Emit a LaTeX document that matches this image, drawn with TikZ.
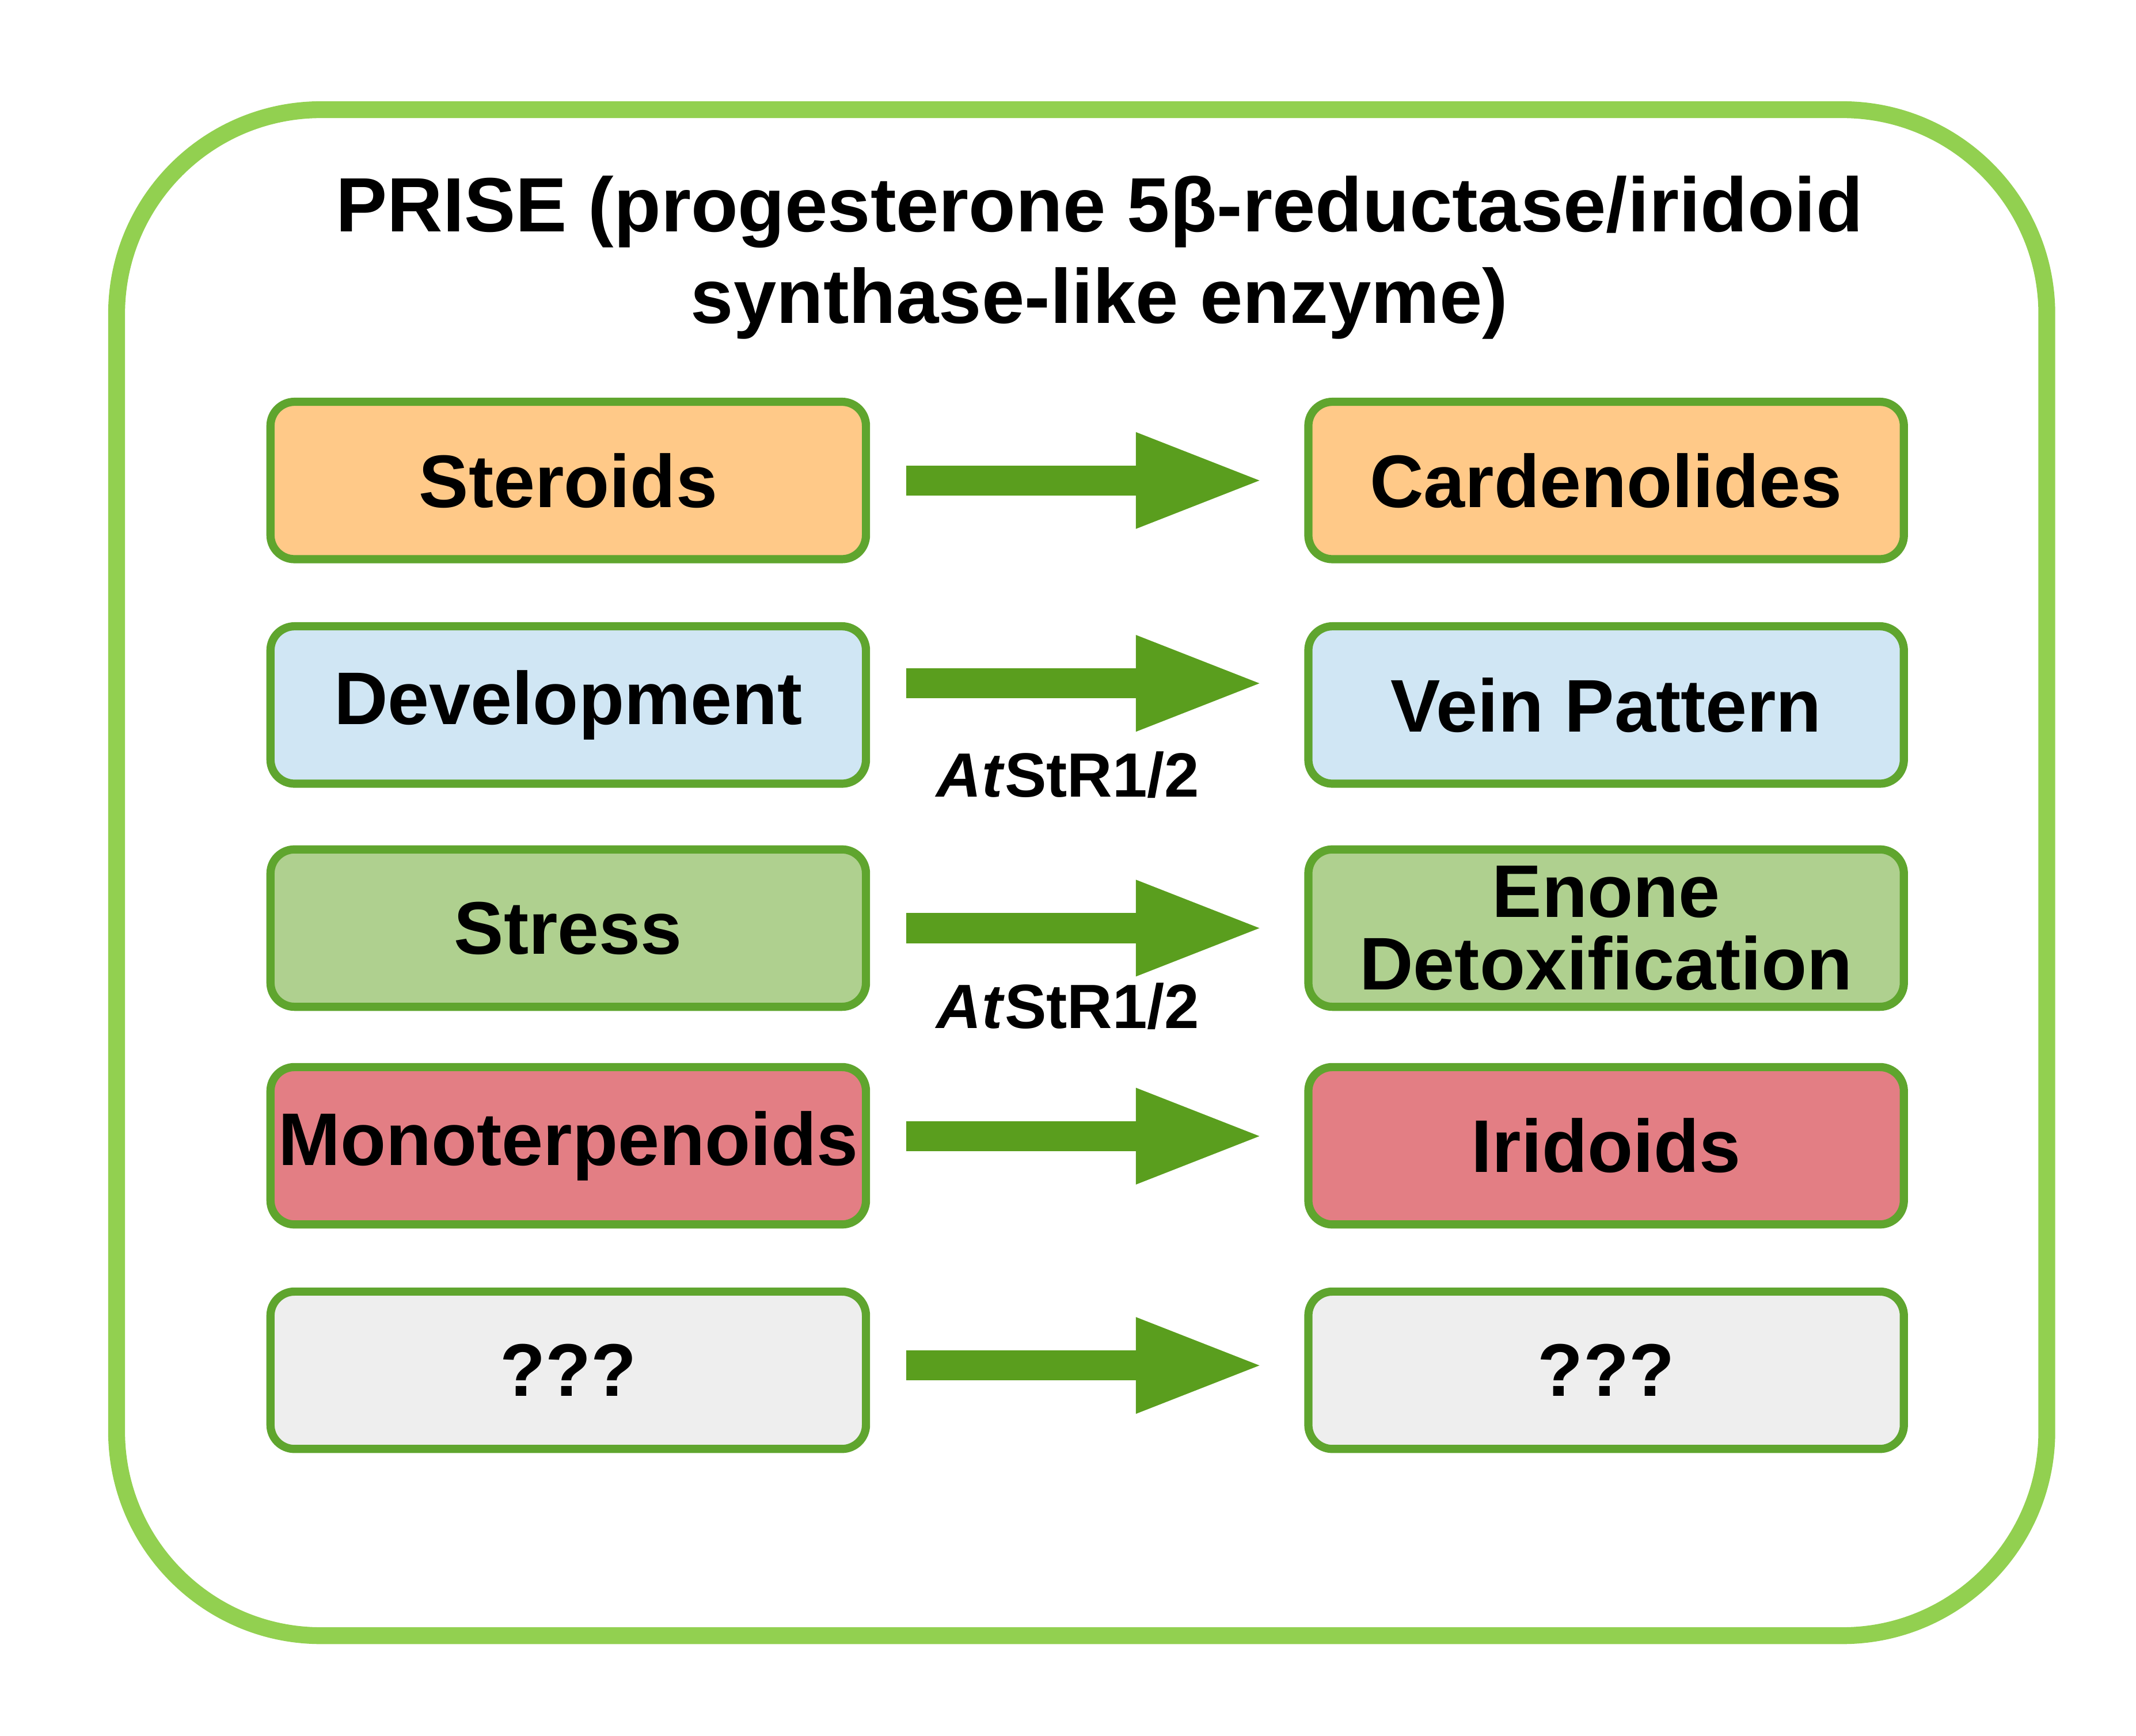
\documentclass[tikz,border=0pt]{standalone}
\usepackage{fontspec}
\setmainfont{Liberation Sans}
\usetikzlibrary{arrows.meta}
\definecolor{outerg}{HTML}{92D050}
\definecolor{boxg}{HTML}{5FA52E}
\definecolor{arrg}{HTML}{5A9E1E}
\definecolor{cor}{HTML}{FFC988}
\definecolor{cbl}{HTML}{D0E6F4}
\definecolor{cgr}{HTML}{AFD08F}
\definecolor{crd}{HTML}{E37E84}
\definecolor{cgy}{HTML}{EEEEEE}
\begin{document}
\begin{tikzpicture}[x=0.02cm,y=-0.02cm,
  box/.style={draw=boxg,line width=3.4pt,rounded corners=10pt,minimum width=8.7cm,minimum height=2.3cm,inner sep=0pt,font=\fontsize{31}{32}\selectfont\bfseries,align=center},
  arr/.style={draw=arrg,line width=12.5pt,-{Triangle[length=54pt,width=36pt]},shorten <=15pt,shorten >=16pt},
  lab/.style={font=\fontsize{26}{28}\selectfont\bfseries}]
\useasboundingbox (0,0) rectangle (1560,1268);
\node[draw=outerg,line width=7pt,rounded corners=85pt,minimum width=28.2cm,minimum height=22.3cm] (outer) at (790,637.5) {};
\node[font=\fontsize{32}{38}\selectfont\bfseries,align=center] (title) at (803,188) {PRISE (progesterone 5β-reductase/iridoid\\synthase-like enzyme)};
\foreach \i/\y/\c/\l/\r in {1/351/cor/Steroids/Cardenolides,2/515/cbl/Development/Vein Pattern,3/678/cgr/Stress/{Enone\\[-2pt]Detoxification},4/837/crd/Monoterpenoids/Iridoids,5/1001/cgy/???/???}{
  \node[box,fill=\c] (L\i) at (415,\y) {\l};
  \node[box,fill=\c] (R\i) at (1173,\y) {\r};
}
\draw[arr] (L1.east) -- (R1.west);
\draw[arr] ([yshift=9pt]L2.east) -- ([yshift=9pt]R2.west);
\draw[arr] (L3.east) -- (R3.west);
\draw[arr] ([yshift=4pt]L4.east) -- ([yshift=4pt]R4.west);
\draw[arr] ([yshift=2pt]L5.east) -- ([yshift=2pt]R5.west);
\node[lab] (a1) at (780,566) {\textit{At}StR1/2};
\node[lab] (a2) at (780,735) {\textit{At}StR1/2};
\end{tikzpicture}
\end{document}
